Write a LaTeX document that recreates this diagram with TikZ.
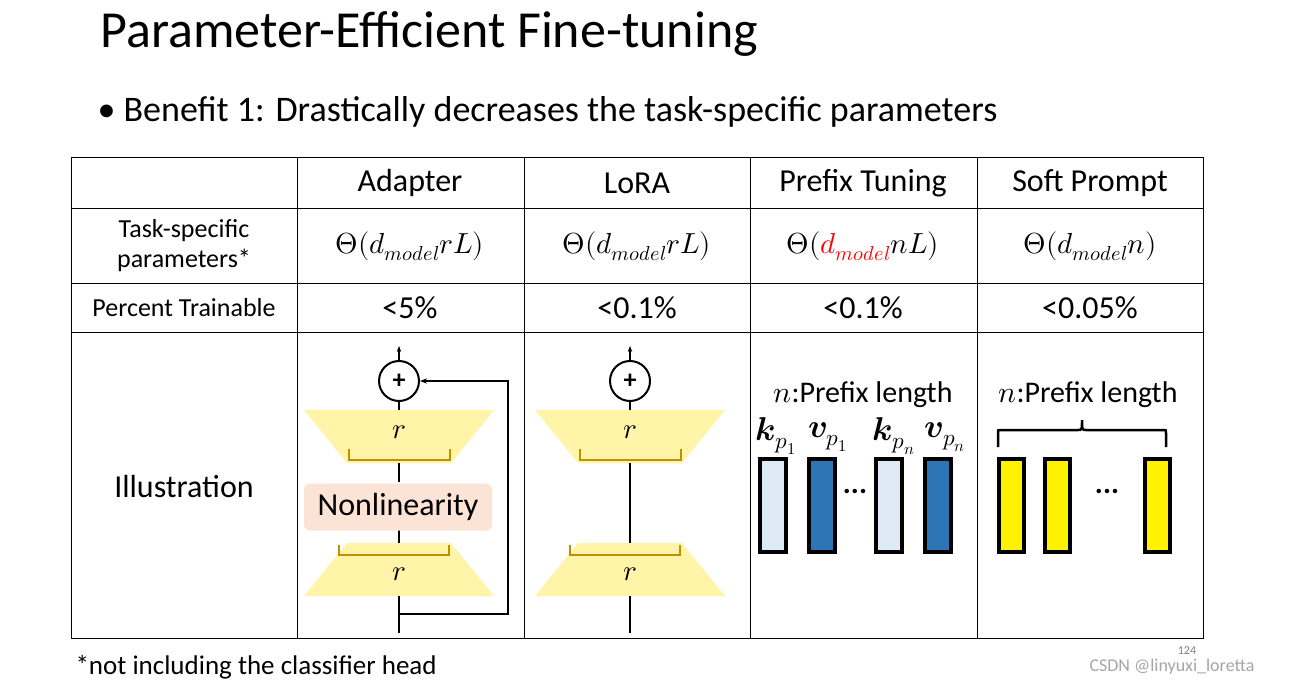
\documentclass[tikz,border=0pt]{standalone}
\usepackage{amsmath}
\usepackage{unicode-math}
\setmainfont{Carlito}
\setmathfont{Latin Modern Math}
\usetikzlibrary{arrows.meta}
\definecolor{trapc}{HTML}{FFF4A8}
\definecolor{brkc}{HTML}{BF9000}
\definecolor{nlc}{HTML}{FBE3D6}
\definecolor{lb}{HTML}{DEEBF7}
\definecolor{db}{HTML}{2E75B6}
\begin{document}
\begin{tikzpicture}[x=1pt,y=-1pt,
  grid/.style={draw=black,line width=1pt},
  trap/.style={fill=trapc,draw=none},
  brk/.style={draw=brkc,line width=2pt},
  ln/.style={line width=2.2pt},
  plus/.style={circle,draw,line width=2pt,minimum size=40pt,inner sep=0pt,font=\fontsize{26}{26}\selectfont\bfseries},
  bar/.style={draw=black,line width=4pt},
  hd/.style={font=\fontsize{32}{34}\selectfont},
  cl/.style={font=\fontsize{26}{30}\selectfont,align=center},
  mth/.style={font=\fontsize{29}{32}\selectfont},
  kv/.style={font=\fontsize{33}{34}\selectfont}]
\useasboundingbox (0,0) rectangle (1294,685);
\fill[white] (0,0) rectangle (1294,685);
\node[anchor=west,font=\fontsize{52}{56}\selectfont] (title) at (97,34) {Parameter-Efficient Fine-tuning};
\node[anchor=west,font=\fontsize{36}{40}\selectfont] (b1) at (94,112) {• Benefit 1: Drastically decreases the task-specific parameters};
% grid
\draw[grid] (71,157) rectangle (1203,638);
\foreach \y in {208,283,332} \draw[grid] (71,\y) -- (1203,\y);
\foreach \x in {297,524,750,977} \draw[grid] (\x,157) -- (\x,638);
% headers
\node[hd] (hA) at (410,183) {Adapter};
\node[hd] (hL) at (637,183) {LoRA};
\node[hd] (hP) at (863,183) {Prefix Tuning};
\node[hd] (hS) at (1090,183) {Soft Prompt};
\node[cl] (r1) at (184,246) {Task-specific\\parameters*};
\node[mth] (mA) at (410,246) {$\Theta(d_{model}rL)$};
\node[mth] (mL) at (637,246) {$\Theta(d_{model}rL)$};
\node[mth] (mP) at (863,246) {$\Theta(\textcolor{red}{d_{model}}nL)$};
\node[mth] (mS) at (1090,246) {$\Theta(d_{model}n)$};
\node[cl] (r2) at (184,308) {Percent Trainable};
\node[hd] (pA) at (410,308) {<5\%};
\node[hd] (pL) at (637,308) {<0.1\%};
\node[hd] (pP) at (863,308) {<0.1\%};
\node[hd] (pS) at (1090,308) {<0.05\%};
\node[hd] (r3) at (184,487) {Illustration};
% adapter / lora
\foreach \dx/\nm in {0/a,231/l}{
  \begin{scope}[xshift=\dx]
  \fill[trap] (304,410) -- (494,410) -- (451,463) -- (347,463) -- cycle;
  \fill[trap] (347,543) -- (451,543) -- (494,596) -- (304,596) -- cycle;
  \draw[brk] (349,449) -- (349,460) -- (450,460) -- (450,449);
  \draw[brk] (339,545) -- (339,555) -- (449,555) -- (449,545);
  \node[mth] at (399,432) {$r$};
  \node[mth] at (399,574) {$r$};
  \node[plus] (c\nm) at (399,381) {+};
  \coordinate (t\nm) at (399,346);
  \coordinate (e\nm) at (399,633);
  \draw[ln,-{Stealth[length=6pt]}] (c\nm.north) -- (t\nm);
  \draw[ln] (c\nm.south) -- (399,410);
  \draw[ln] (399,596) -- (e\nm);
  \end{scope}}
\draw[ln] (399,463) -- (399,482);
\draw[ln] (399,530) -- (399,543);
\node[fill=nlc,rounded corners=6pt,minimum width=188pt,minimum height=47pt,font=\fontsize{32}{34}\selectfont] (nl) at (398,507) {Nonlinearity};
\coordinate (sk1) at (399,614);
\coordinate (sk2) at (508,614);
\coordinate (sk3) at (508,381);
\draw[ln,-{Stealth[length=7pt]}] (sk1) -- (sk2) -- (sk3) -- (ca.east);
\draw[ln] (630,463) -- (630,543);
% prefix tuning
\node[font=\fontsize{30}{32}\selectfont] (pt) at (863,395) {$n$:Prefix length};
\foreach \x/\c in {760/lb,809/db,876/lb,925/db}
  \draw[bar,fill=\c] (\x,459) rectangle ++(26,93);
\node[kv] (lk1) at (776,436) {$\symbfit{k}_{p_1}$};
\node[kv] (lv1) at (828,437) {$\symbfit{v}_{p_1}$};
\node[kv] (lk2) at (894,436) {$\symbfit{k}_{p_n}$};
\node[kv] (lv2) at (945,437) {$\symbfit{v}_{p_n}$};
\node[font=\fontsize{30}{30}\selectfont\bfseries] (d1) at (855,491) {...};
% soft prompt
\node[font=\fontsize{30}{32}\selectfont] (sp) at (1088,395) {$n$:Prefix length};
\draw[line width=2.5pt] (998,447) -- (998,433) .. controls (998,430) .. (1001,430) -- (1078,430) .. controls (1082,430) .. (1082,420) .. controls (1082,430) .. (1086,430) -- (1163,430) .. controls (1166,430) .. (1166,433) -- (1166,447);
\foreach \x in {999,1045,1145}
  \draw[bar,fill=yellow] (\x,459) rectangle ++(25,93);
\node[font=\fontsize{30}{30}\selectfont\bfseries] (d2) at (1107,491) {...};
% footer
\node[anchor=west,font=\fontsize{27}{30}\selectfont] (fn) at (72,667) {*not including the classifier head};
\node[font=\fontsize{12}{14}\selectfont,text=gray] (pg) at (1187,651) {124};
\node[anchor=west,font=\fontsize{18}{20}\selectfont,text=gray!70] (wm) at (1086,667) {CSDN @linyuxi\_loretta};
\end{tikzpicture}
\end{document}
